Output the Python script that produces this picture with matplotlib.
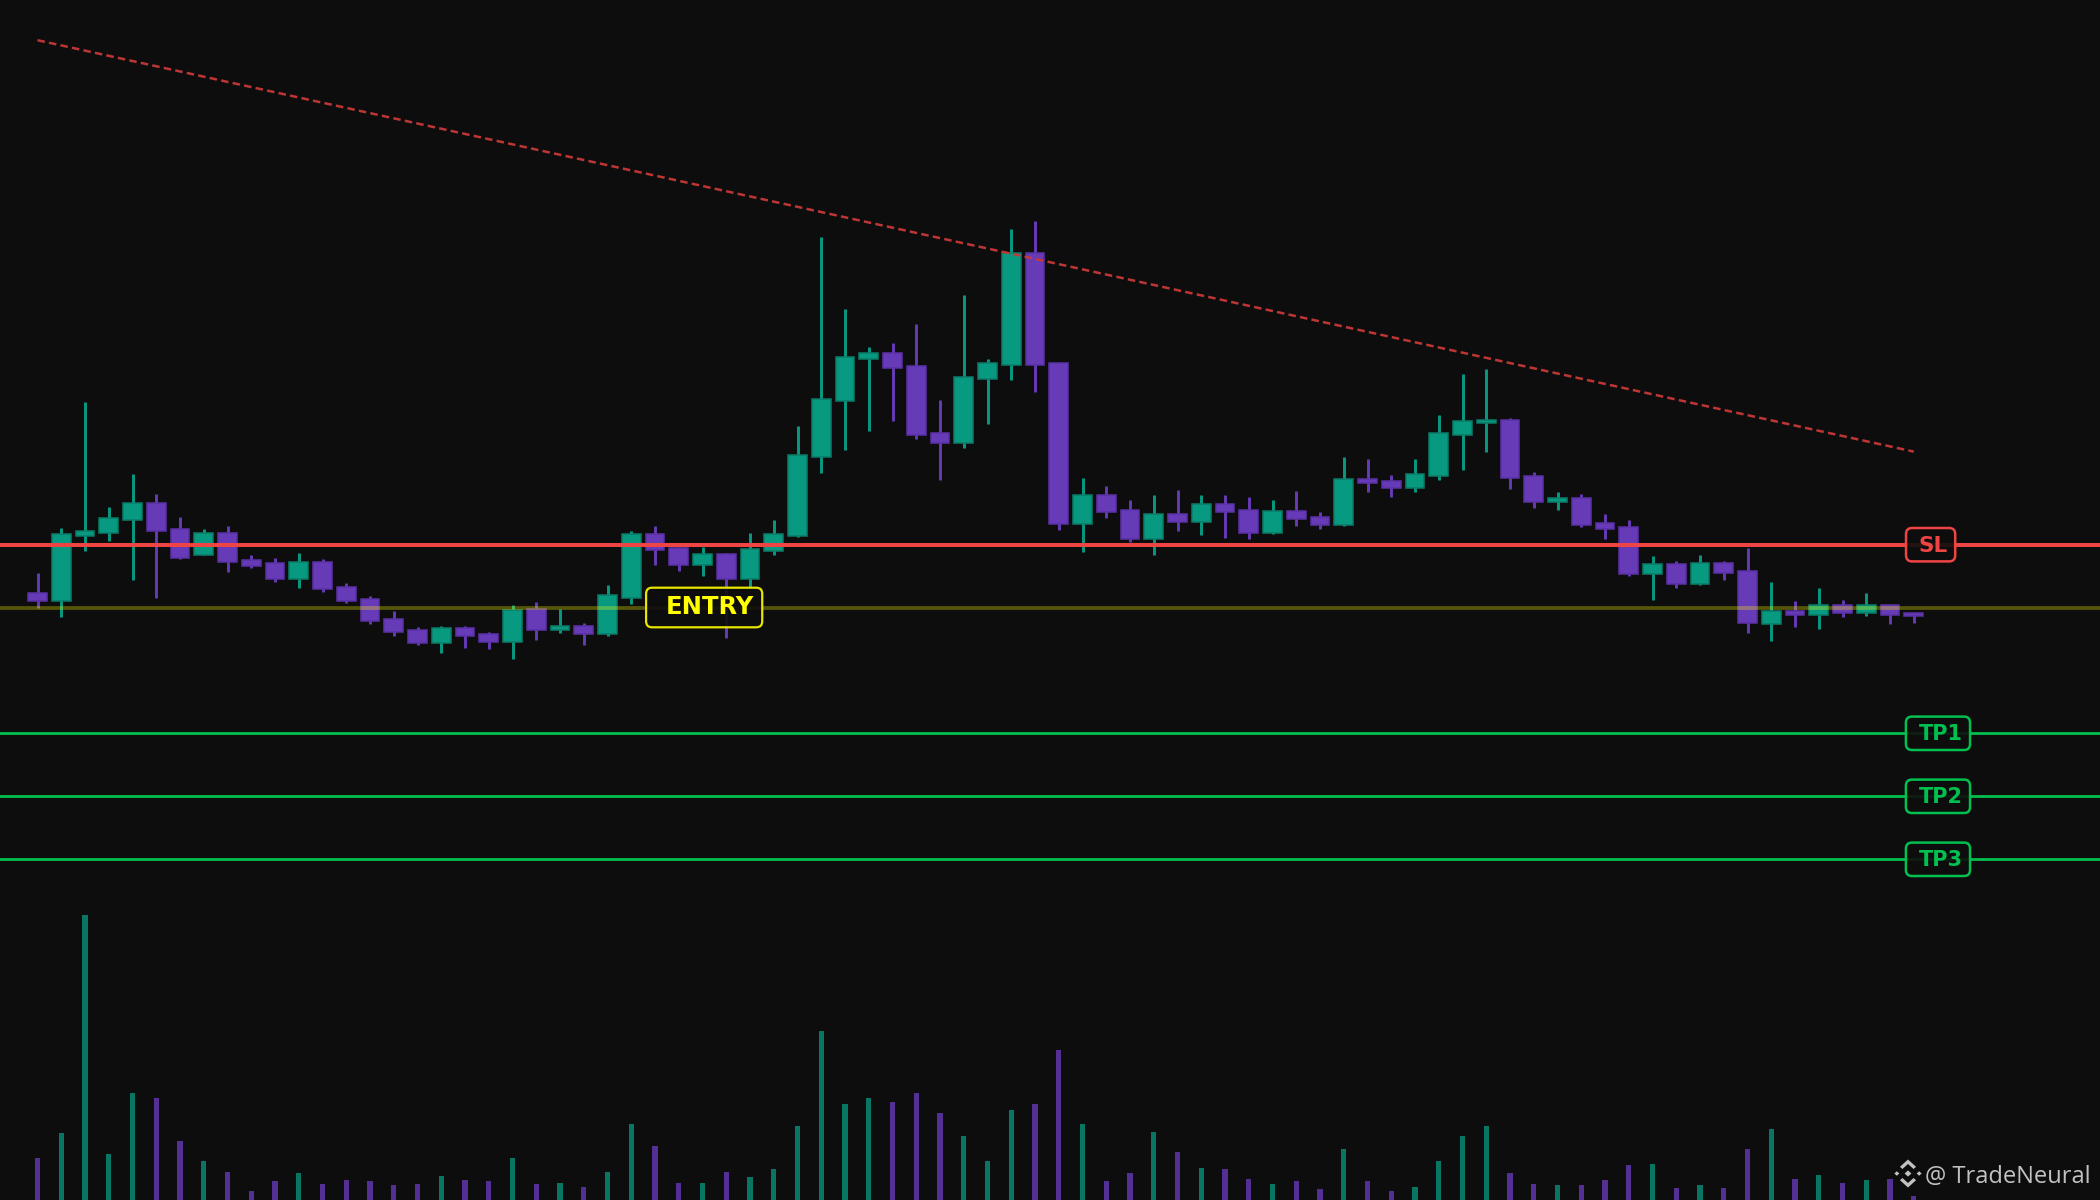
import matplotlib
matplotlib.use('Agg')
import matplotlib.pyplot as plt
from matplotlib.patches import FancyBboxPatch, Polygon
from matplotlib.transforms import Affine2D
import numpy as np

# ---------------- data ----------------
opens = [406.7, 398.7, 463.7, 466.7, 479.7, 496.7, 470.7, 445.3, 466.7, 439.7,
         436.7, 420.7, 437.7, 412.7, 400.7, 380.7, 369.7, 356.7, 371.7, 365.7,
         357.7, 390.7, 369.7, 373.7, 365.7, 402.3, 465.7, 451.7, 434.7, 445.7,
         420.7, 448.7, 463.7, 542.7, 598.7, 640.7, 647.3, 633.7, 566.7, 556.7,
         620.7, 634.7, 747.3, 636.7, 475.7, 504.7, 489.7, 460.7, 485.7, 477.7,
         495.7, 489.7, 466.7, 488.7, 482.7, 474.7, 520.7, 518.7, 511.7, 523.7,
         564.7, 576.7, 579.7, 523.7, 497.7, 501.7, 476.7, 472.7, 425.7, 435.7,
         415.7, 436.7, 428.7, 375.7, 388.7, 384.7, 394.7, 386.7, 394.7, 386.7]
highs = [427, 472, 598, 493, 526, 506, 483, 471, 474, 445,
         442, 447, 441, 417, 404, 389, 373, 374, 374, 368,
         395, 398, 391, 377, 415, 469, 474, 453.3, 452.7, 446.7,
         467, 480, 574, 763, 691, 653, 657, 676, 600, 705,
         641, 771, 779, 636.7, 522, 514, 500, 505, 510, 505,
         505, 503, 500, 509, 488, 543, 541, 525, 541, 585,
         626, 631, 581.7, 528, 508, 506, 486, 480, 444, 439,
         445, 439, 452, 418, 399, 412, 400, 407, 396, 388]
lows = [392.3, 383.3, 449.3, 459.3, 420.3, 402.3, 441.3, 445, 428.3, 432,
        418, 412, 408, 397, 376, 364.3, 355, 347.3, 352.3, 351.3,
        341.3, 360.3, 367.3, 355.3, 364.3, 396.3, 435.3, 429.3, 424.3, 362.3,
        413.3, 445.3, 463.3, 527.3, 550.3, 569.3, 579.3, 561.3, 520.3, 552.3,
        576.3, 620.3, 608.3, 470.3, 448.3, 482.3, 458.3, 445.3, 469.3, 465.3,
        462.3, 461.3, 466.3, 474.3, 471.3, 474.3, 508.3, 503.3, 508.3, 520.3,
        530.3, 548.3, 511.3, 492.3, 490.3, 473.3, 461.3, 424.3, 400.3, 412.3,
        415.3, 420.3, 367.3, 359.3, 373, 371.3, 383.3, 384.3, 376.3, 377.3]
closes = [398.7, 465.7, 468.7, 481.7, 496.7, 468.7, 442.3, 466.7, 437.7, 434.3,
          420.7, 437.7, 410.7, 398.7, 378.7, 367.7, 356.7, 371.7, 363.7, 357.7,
          390, 369.7, 373.7, 365.7, 404.7, 465.7, 449.7, 434.7, 445.7, 420.7,
          450.7, 465.7, 544.7, 600.7, 642.7, 647.3, 631.7, 564.7, 556.7, 622.7,
          636.7, 747.3, 634.7, 475.7, 504.7, 487.7, 460.7, 485.7, 477.7, 495.7,
          487.7, 466.7, 488.7, 480.7, 474.7, 520.7, 516.7, 511.7, 525.7, 566.7,
          578.7, 579.7, 521.7, 497.7, 501.7, 474.7, 470.7, 425.7, 435.7, 415.7,
          436.7, 426.7, 376.7, 388.7, 384.7, 394.7, 386.7, 394.7, 384.7, 383.7]
volumes = [31, 50, 213, 34, 80, 76, 44, 29, 21, 7,
           14, 20, 12, 15, 14, 11, 12, 18, 15, 14,
           31, 12, 13, 10, 21, 57, 40, 13, 13, 21,
           17, 23, 55, 126, 72, 76, 73, 80, 65, 48,
           29, 67, 72, 112, 57, 14, 20, 51, 36, 24,
           23, 16, 12, 14, 8, 38, 14, 7, 10, 29,
           48, 55, 20, 12, 11, 11, 15, 26, 27, 9,
           11, 9, 38, 53, 16, 19, 12.5, 15, 16, 3]

entry_price = 392.0
stop_loss = 455.3
take_profits = [266.7, 203.7, 140.7]
tp_labels = ['TP1', 'TP2', 'TP3']
trend_idx = [0, 79]
trend_price = [959.8, 548.4]
entry_label_idx = 28
watermark = '@ TradeNeural'

# ---------------- style ----------------
BG = '#0d0d0d'
UP = '#089981'
DOWN = '#673ab7'
UP_EDGE = '#0b7d69'
DOWN_EDGE = '#5b31a6'
SL_C = '#ef4444'
TP_C = '#00c04f'
ENTRY_C = '#ffff00'

o = np.array(opens); h = np.array(highs); l = np.array(lows); c = np.array(closes)
v = np.array(volumes, dtype=float)
x = np.arange(len(o))
up = c >= o

fig = plt.figure(figsize=(21, 12), dpi=100, facecolor=BG)
XLIM = (-1.579, 86.842)

# volume axes (behind)
axv = fig.add_axes([0, 0, 1, 1])
axv.set_xlim(*XLIM)
axv.set_ylim(0, 896)
axv.axis('off')
axv.bar(x[up], v[up], width=0.22, color=UP, alpha=0.75, linewidth=0)
axv.bar(x[~up], v[~up], width=0.22, color=DOWN, alpha=0.8, linewidth=0)

# price axes
ax = fig.add_axes([0, 0, 1, 1])
ax.set_xlim(*XLIM)
ax.set_ylim(-200, 1000)
ax.axis('off')

cols = np.where(up, UP, DOWN)
edges = np.where(up, UP_EDGE, DOWN_EDGE)
ax.vlines(x, l, h, colors=cols, linewidth=2.1, zorder=2)
body_bottom = np.minimum(o, c)
body_h = np.maximum(np.abs(c - o), 1.0)
ax.bar(x, body_h, bottom=body_bottom, width=0.78, color=cols,
       edgecolor=edges, linewidth=1.1, zorder=3)

# levels
ax.axhline(stop_loss, color=SL_C, linewidth=2.9, zorder=5)
ax.axhline(entry_price, color=ENTRY_C, alpha=0.3, linewidth=2.7, zorder=5)
for tp in take_profits:
    ax.axhline(tp, color=TP_C, linewidth=2.0, zorder=5)

# trendline
ax.plot(trend_idx, trend_price, color='#c83838', linewidth=1.8, alpha=0.95,
        linestyle=(0, (3.0, 1.7)), zorder=6)

ASPECT = 23.75
R = 0.2526


def label(xc, yc, w, hgt, text, ec, tc, fs, lw, dx=0.12):
    box = FancyBboxPatch((xc - w / 2, yc - hgt / 2), w, hgt,
                         boxstyle='round,pad=0,rounding_size=%f' % R,
                         mutation_aspect=ASPECT,
                         edgecolor=ec, linewidth=lw, zorder=8)
    box.set_facecolor((0.05, 0.05, 0.05, 0.9))
    ax.add_patch(box)
    ax.text(xc + dx, yc - 7, text, ha='center', va='baseline', color=tc,
            fontsize=fs, fontweight='bold', family='DejaVu Sans', zorder=9)


label(79.71, stop_loss, 2.07, 33.4, 'SL', SL_C, SL_C, 15.5, 1.8)
for tp, name in zip(take_profits, tp_labels):
    label(80.02, tp, 2.70, 33.4, name, TP_C, TP_C, 15, 1.8)
label(entry_label_idx + 0.07, entry_price + 0.5, 4.89, 39.6, 'ENTRY', '#e6e600',
      ENTRY_C, 17.5, 1.6, dx=0.22)

# watermark
fig.text(0.9957, 0.0142, watermark, ha='right', va='baseline', color='#d6d6d6',
         fontsize=17, family=['Open Sans', 'DejaVu Sans'], alpha=0.9)

# Binance-like logo
pieces = [
    [(-0.52, 0.48), (0, 1), (0.52, 0.48), (0.36, 0.32), (0, 0.68), (-0.36, 0.32)],
    [(-0.52, -0.48), (0, -1), (0.52, -0.48), (0.36, -0.32), (0, -0.68), (-0.36, -0.32)],
    [(0, 0.22), (0.22, 0), (0, -0.22), (-0.22, 0)],
    [(-0.72, 0.16), (-0.56, 0), (-0.72, -0.16), (-0.88, 0)],
    [(0.72, 0.16), (0.88, 0), (0.72, -0.16), (0.56, 0)],
]
tr = Affine2D().scale(15.5, 14).translate(1908, 1200 - 1173.5)
for p in pieces:
    poly = Polygon(p, closed=True, facecolor='#d6d6d6', edgecolor='none',
                   transform=tr, alpha=0.9)
    fig.add_artist(poly)

fig.savefig('out.png', dpi=100, facecolor=BG)
